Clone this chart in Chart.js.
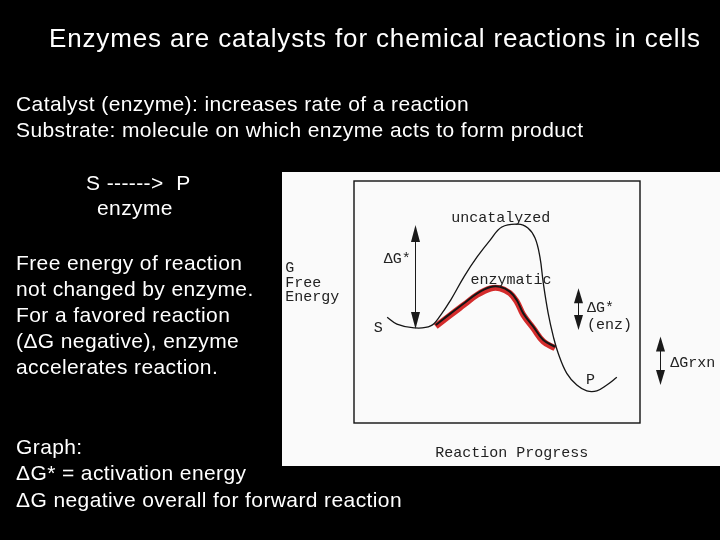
<!DOCTYPE html>
<html>
<head>
<meta charset="utf-8">
<script src="https://cdn.jsdelivr.net/npm/chart.js@4.4.0/dist/chart.umd.min.js"></script>
<style>
  body { margin: 0; background: #000; }
  #slide { position: relative; width: 720px; height: 540px; overflow: hidden; background: #000; }
  #chart { position: absolute; left: 0; top: 0; }
  .t { position: absolute; color: #fff; font-family: "Liberation Sans", Arial, sans-serif; white-space: nowrap; line-height: 1; }
  .title { font-size: 26px; letter-spacing: 0.85px; }
  .body { font-size: 21px; letter-spacing: 0.4px; }
</style>
</head>
<body>
<div id="slide">
  <canvas id="chart" width="720" height="540"></canvas>
  <div class="t title" style="left:49px;top:25px">Enzymes are catalysts for chemical reactions in cells</div>
  <div class="t body" style="left:16px;top:93px">Catalyst (enzyme): increases rate of a reaction</div>
  <div class="t body" style="left:16px;top:119px">Substrate: molecule on which enzyme acts to form product</div>
  <div class="t body" style="left:86px;top:171.5px">S ------&gt;&nbsp; P</div>
  <div class="t body" style="left:97px;top:197px">enzyme</div>
  <div class="t body" style="left:16px;top:251.5px">Free energy of reaction</div>
  <div class="t body" style="left:16px;top:277.5px">not changed by enzyme.</div>
  <div class="t body" style="left:16px;top:303.5px">For a favored reaction</div>
  <div class="t body" style="left:16px;top:329.5px">(ΔG negative), enzyme</div>
  <div class="t body" style="left:16px;top:355.5px">accelerates reaction.</div>
  <div class="t body" style="left:16px;top:435.5px">Graph:</div>
  <div class="t body" style="left:16px;top:462px">ΔG* = activation energy</div>
  <div class="t body" style="left:16px;top:489px">ΔG negative overall for forward reaction</div>
</div>
<script>
// reaction coordinate (0-100) and free energy (0-100)
const uncatX = [11.6, 15.0, 21.0, 26.8, 30.3, 33.8, 38.5, 43.1, 47.6, 51.7, 57.3, 60.8, 63.3, 65.0, 66.2, 67.9, 69.7, 71.4, 74.4, 77.9, 81.4, 84.9, 88.4, 91.9];
const uncatY = [43.7, 40.9, 39.3, 40.1, 44.6, 50.8, 60.5, 68.7, 75.6, 81.0, 82.2, 80.6, 76.4, 68.6, 57.7, 45.3, 35.7, 28.8, 20.5, 15.7, 13.3, 13.3, 15.7, 18.9];
const enzX = [28.6, 33.8, 38.5, 43.1, 47.7, 51.0, 54.5, 56.9, 59.2, 62.7, 66.2, 70.3];
const enzY = [40.5, 45.3, 49.5, 53.6, 56.2, 56.3, 54.3, 50.8, 45.3, 39.8, 34.3, 31.5];

// energy differences shown as double arrows: x, low end, high end
const arrowX = [21.3, 78.3, 107.0];
const arrowLow = [38.8, 38.4, 15.7];
const arrowHigh = [81.8, 55.7, 35.7];

// labels in the figure, anchored in data units (left, baseline)
const labelText = ["uncatalyzed", "enzymatic", "ΔG*", "S", "ΔG*", "(enz)", "P", "ΔGrxn", "G", "Free", "Energy", "Reaction Progress"];
const labelX = [34.0, 40.7, 10.4, 6.9, 81.5, 81.5, 81.1, 110.6, -24.0, -24.0, -24.0, 28.4];
const labelY = [83.0, 57.6, 66.2, 37.6, 45.9, 39.0, 16.2, 23.1, 62.6, 56.2, 50.3, -14.0];

const toPoints = (xs, ys) => xs.map((x, i) => ({ x, y: ys[i] }));

// white figure panel and plot frame
const figurePanel = {
  id: "figurePanel",
  beforeDraw(chart) {
    const { ctx, chartArea: a } = chart;
    ctx.save();
    ctx.fillStyle = "#fafafa";
    ctx.fillRect(a.left - 72, a.top - 9, a.right - a.left + 152, a.bottom - a.top + 52);
    ctx.restore();
  },
  beforeDatasetsDraw(chart) {
    const { ctx, chartArea: a } = chart;
    ctx.save();
    ctx.strokeStyle = "#111";
    ctx.lineWidth = 1.4;
    ctx.strokeRect(a.left, a.top, a.right - a.left, a.bottom - a.top);
    ctx.restore();
  },
  beforeDatasetDraw(chart, args) {
    // red band sits a little under the black enzymatic line
    if (args.index === 0) {
      chart.ctx.save();
      chart.ctx.translate(0, 1.5);
    }
  },
  afterDatasetDraw(chart, args) {
    if (args.index === 0) chart.ctx.restore();
  }
};

// arrows and text labels
const annotations = {
  id: "annotations",
  afterDraw(chart) {
    const { ctx } = chart;
    const xs = chart.scales.x, ys = chart.scales.y;
    ctx.save();
    ctx.fillStyle = "#1a1a1a";
    ctx.strokeStyle = "#1a1a1a";
    ctx.lineWidth = 1;
    arrowX.forEach((v, i) => {
      const px = Math.round(xs.getPixelForValue(v)) + 0.5;
      const top = ys.getPixelForValue(arrowHigh[i]);
      const bot = ys.getPixelForValue(arrowLow[i]);
      const head = i === 0 ? 17 : 15, half = 4.5;
      ctx.beginPath();
      ctx.moveTo(px, top + head - 2);
      ctx.lineTo(px, bot - head + 2);
      ctx.stroke();
      ctx.beginPath();
      ctx.moveTo(px, top);
      ctx.lineTo(px + half, top + head);
      ctx.lineTo(px - half, top + head);
      ctx.closePath();
      ctx.fill();
      ctx.beginPath();
      ctx.moveTo(px, bot);
      ctx.lineTo(px + half, bot - head);
      ctx.lineTo(px - half, bot - head);
      ctx.closePath();
      ctx.fill();
    });
    ctx.font = '15px "Liberation Mono", "DejaVu Sans Mono", monospace';
    ctx.textBaseline = "alphabetic";
    ctx.textAlign = "left";
    ctx.fillStyle = "#222";
    labelText.forEach((s, i) => {
      ctx.fillText(s, xs.getPixelForValue(labelX[i]), ys.getPixelForValue(labelY[i]));
    });
    ctx.restore();
  }
};

new Chart(document.getElementById("chart"), {
  type: "line",
  data: {
    datasets: [
      {
        label: "enzymatic band",
        data: toPoints(enzX, enzY),
        borderColor: "#d42c2c",
        borderWidth: 6,
        tension: 0.4,
        pointRadius: 0,
        order: 3
      },
      {
        label: "enzymatic",
        data: toPoints(enzX, enzY),
        borderColor: "#151515",
        borderWidth: 2,
        tension: 0.4,
        pointRadius: 0,
        order: 2
      },
      {
        label: "uncatalyzed",
        data: toPoints(uncatX, uncatY),
        borderColor: "#151515",
        borderWidth: 1.3,
        tension: 0.4,
        pointRadius: 0,
        order: 1
      }
    ]
  },
  options: {
    responsive: false,
    animation: false,
    devicePixelRatio: 1,
    layout: { padding: { left: 354, right: 80, top: 181, bottom: 117 } },
    scales: {
      x: { type: "linear", min: 0, max: 100, display: false },
      y: { type: "linear", min: 0, max: 100, display: false }
    },
    plugins: {
      legend: { display: false },
      tooltip: { enabled: false }
    }
  },
  plugins: [figurePanel, annotations]
});
</script>
</body>
</html>
